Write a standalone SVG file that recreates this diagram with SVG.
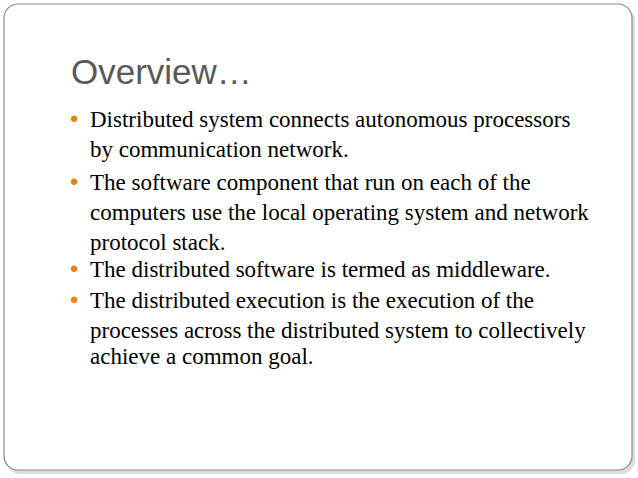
<svg xmlns="http://www.w3.org/2000/svg" width="638" height="478" viewBox="0 0 638 478">
<style>
.t{font-family:"Liberation Serif",serif;font-size:23px;fill:#000}
.b{font-family:"Liberation Sans",sans-serif;font-size:24px;fill:#E48312}
</style>
<rect width="638" height="478" fill="#fff"/>
<rect x="6" y="7" width="629" height="467" rx="14" fill="#bbb" opacity="0.5"/>
<rect x="4" y="4" width="628" height="466" rx="14" fill="#fff" stroke="#8a8a8a" stroke-width="1.2"/>
<g id="title"><text x="71" y="84" font-family="Liberation Sans,sans-serif" font-size="35" fill="#595959">Overview…</text></g>
<g id="body">
<text class="b" x="70" y="127">•</text>
<text class="t" x="90" y="127">Distributed system connects autonomous processors</text>
<text class="t" x="90" y="157">by communication network.</text>
<text class="b" x="70" y="190">•</text>
<text class="t" x="90" y="190">The software component that run on each of the</text>
<text class="t" x="90" y="220">computers use the local operating system and network</text>
<text class="t" x="90" y="250">protocol stack.</text>
<text class="b" x="70" y="277">•</text>
<text class="t" x="90" y="277">The distributed software is termed as middleware.</text>
<text class="b" x="70" y="308">•</text>
<text class="t" x="90" y="308">The distributed execution is the execution of the</text>
<text class="t" x="90" y="338">processes across the distributed system to collectively</text>
<text class="t" x="90" y="364">achieve a common goal.</text>
</g>
</svg>
